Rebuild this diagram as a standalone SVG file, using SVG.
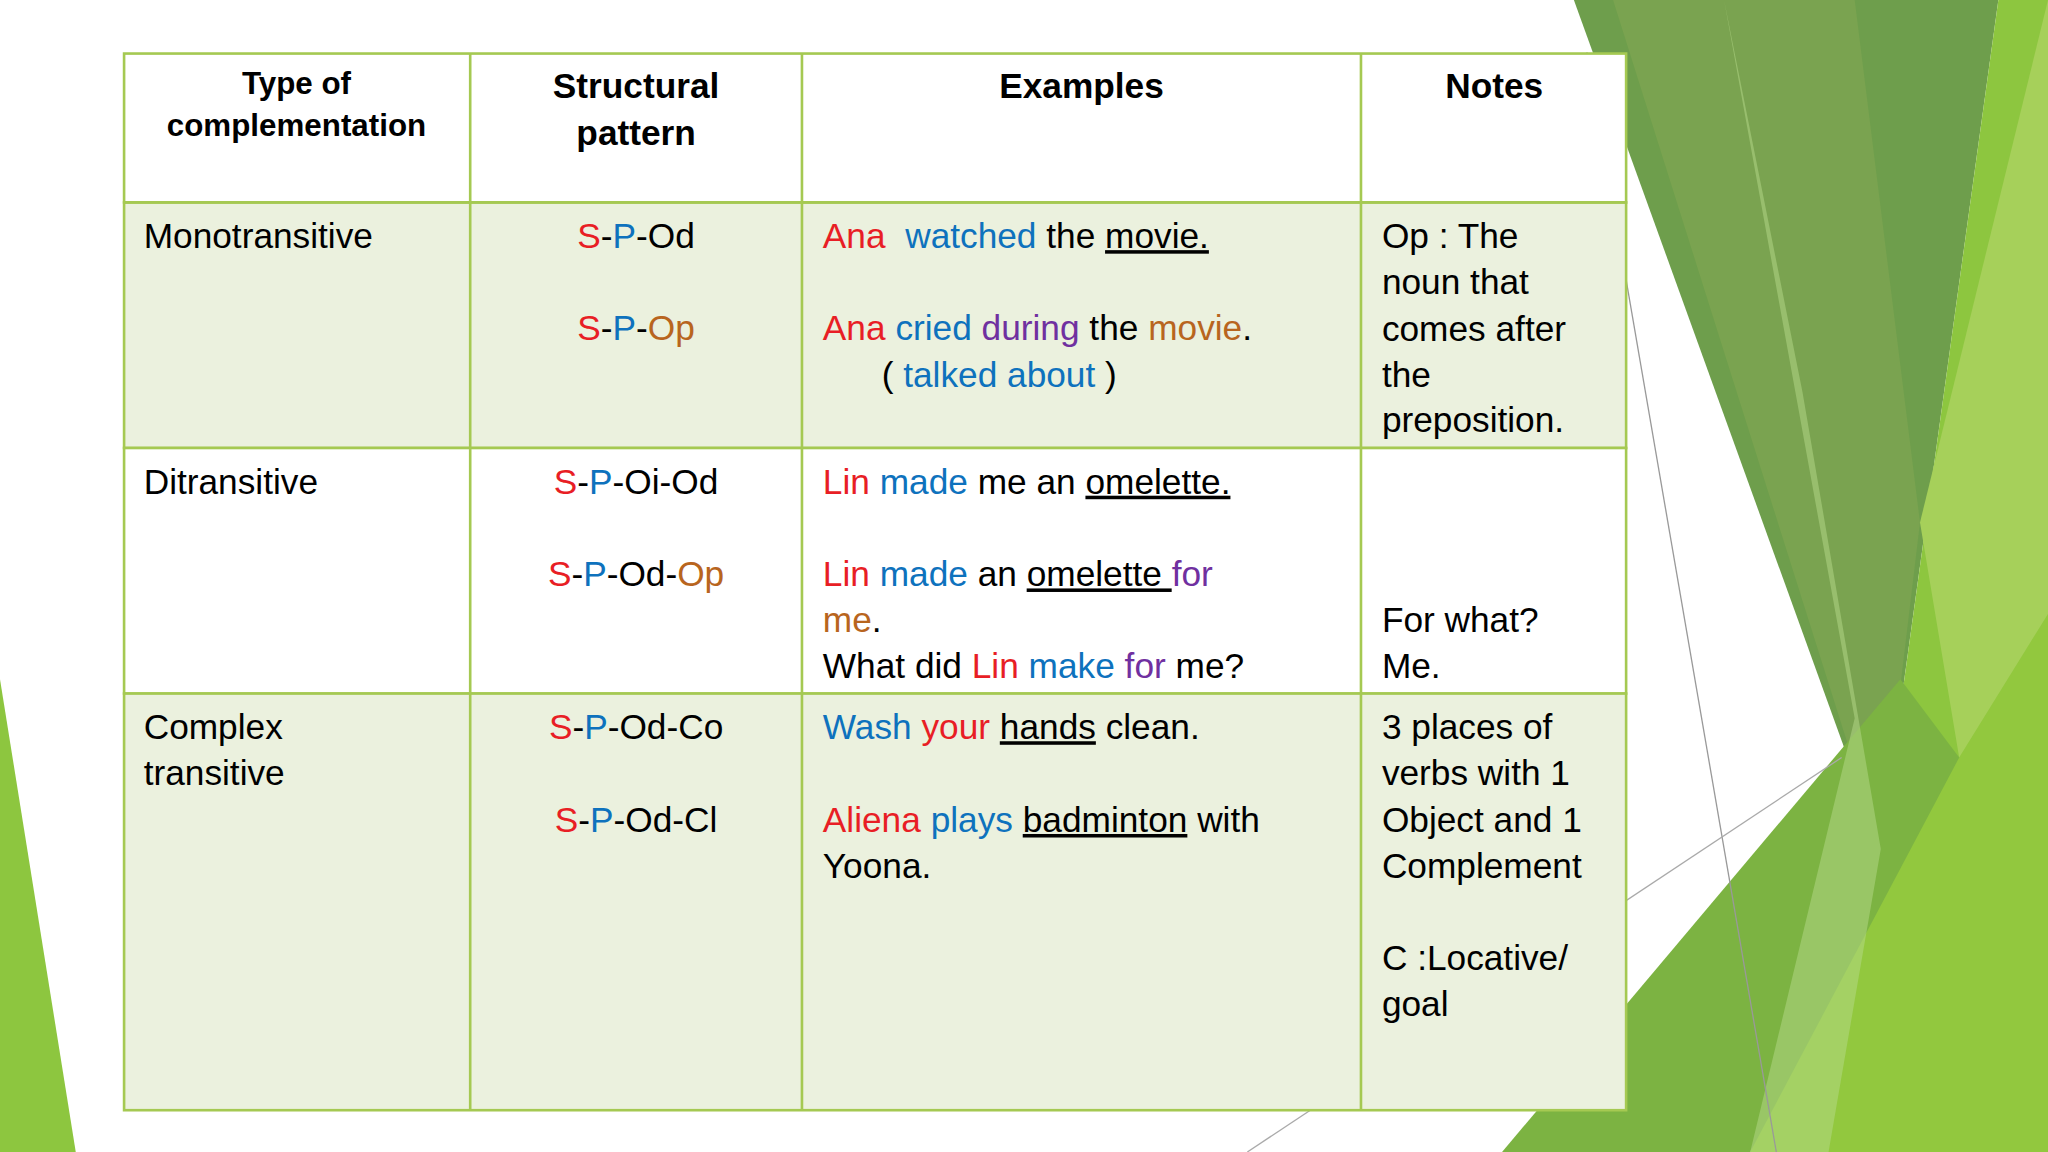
<svg xmlns="http://www.w3.org/2000/svg" width="2048" height="1152" viewBox="0 0 2048 1152">
<style>
text{font-family:"Liberation Sans",Arial,sans-serif;font-size:27px;fill:#000}
.h{font-weight:bold}
.r{fill:#E81E25}.b{fill:#0E72BD}.p{fill:#7030A0}.o{fill:#B8651E}
.u{text-decoration:underline}
.c{text-anchor:middle}
.cell{stroke:#A5C952;stroke-width:2}
</style>
<rect width="2048" height="1152" fill="#fff"/>
<g transform="scale(1.30612)">
<g id="background">
<polygon points="0,520 0,882 58,882" fill="#8DC63F"/>
<polygon points="1205,0 1530,0 1440,650" fill="#6E9E4C"/>
<polygon points="1235,0 1420,0 1470,400 1440,650" fill="#7AA350"/>
<polygon points="1530,0 1568,0 1568,882 1340,882 1440,650" fill="#8DC63F"/>
<polygon points="1440,650 1500,580 1568,470 1568,882 1340,882" fill="#92C83E"/>
<polygon points="1150,882 1455,520 1500,580 1340,882" fill="#7CB342"/>
<polygon points="1320,0 1380,300 1440,650 1400,882 1340,882 1420,550" fill="#B5D98A" opacity="0.5"/>
<polygon points="1470,400 1568,0 1568,470 1500,580" fill="#A6D05A"/>
<line x1="1215" y1="40" x2="1360" y2="882" stroke="#999" stroke-width="1"/>
<line x1="955" y1="882" x2="1410" y2="580" stroke="#aaa" stroke-width="1"/>
</g>
<g id="table">
<rect class="cell" x="95" y="41" width="1150" height="114" fill="#fff"/>
<rect class="cell" x="95" y="155" width="1150" height="188" fill="#EBF1DE"/>
<rect class="cell" x="95" y="343" width="1150" height="188" fill="#fff"/>
<rect class="cell" x="95" y="531" width="1150" height="319" fill="#EBF1DE"/>
<line class="cell" x1="95" y1="155" x2="1245" y2="155" stroke-width="3"/>
<line class="cell" x1="360" y1="41" x2="360" y2="850"/>
<line class="cell" x1="614" y1="41" x2="614" y2="850"/>
<line class="cell" x1="1042" y1="41" x2="1042" y2="850"/>
</g>
<g id="header">
<text class="h c" x="227" y="72" font-size="24" style="font-size:24px">Type of</text>
<text class="h c" x="227" y="104" style="font-size:24px">complementation</text>
<text class="h c" x="487" y="75">Structural</text>
<text class="h c" x="487" y="111">pattern</text>
<text class="h c" x="828" y="75">Examples</text>
<text class="h c" x="1144" y="75">Notes</text>
</g>
<g id="row1">
<text x="110" y="190">Monotransitive</text>
<text class="c" x="487" y="190"><tspan class="r">S</tspan>-<tspan class="b">P</tspan>-Od</text>
<text class="c" x="487" y="260"><tspan class="r">S</tspan>-<tspan class="b">P</tspan>-<tspan class="o">Op</tspan></text>
<text x="630" y="190" xml:space="preserve"><tspan class="r">Ana</tspan>  <tspan class="b">watched</tspan> the <tspan class="u">movie.</tspan></text>
<text x="630" y="260"><tspan class="r">Ana</tspan> <tspan class="b">cried</tspan> <tspan class="p">during</tspan> the <tspan class="o">movie</tspan>.</text>
<text x="675" y="296">( <tspan class="b">talked about</tspan> )</text>
<text x="1058" y="190">Op : The</text>
<text x="1058" y="225">noun that</text>
<text x="1058" y="261">comes after</text>
<text x="1058" y="296">the</text>
<text x="1058" y="331">preposition.</text>
</g>
<g id="row2">
<text x="110" y="378">Ditransitive</text>
<text class="c" x="487" y="378"><tspan class="r">S</tspan>-<tspan class="b">P</tspan>-Oi-Od</text>
<text class="c" x="487" y="449"><tspan class="r">S</tspan>-<tspan class="b">P</tspan>-Od-<tspan class="o">Op</tspan></text>
<text x="630" y="378"><tspan class="r">Lin</tspan> <tspan class="b">made</tspan> me an <tspan class="u">omelette.</tspan></text>
<text x="630" y="449" xml:space="preserve"><tspan class="r">Lin</tspan> <tspan class="b">made</tspan> an <tspan class="u">omelette </tspan><tspan class="p">for</tspan></text>
<text x="630" y="484"><tspan class="o">me</tspan>.</text>
<text x="630" y="519">What did <tspan class="r">Lin</tspan> <tspan class="b">make</tspan> <tspan class="p">for</tspan> me?</text>
<text x="1058" y="484">For what?</text>
<text x="1058" y="519">Me.</text>
</g>
<g id="row3">
<text x="110" y="566">Complex</text>
<text x="110" y="601">transitive</text>
<text class="c" x="487" y="566"><tspan class="r">S</tspan>-<tspan class="b">P</tspan>-Od-Co</text>
<text class="c" x="487" y="637"><tspan class="r">S</tspan>-<tspan class="b">P</tspan>-Od-Cl</text>
<text x="630" y="566"><tspan class="b">Wash</tspan> <tspan class="r">your</tspan> <tspan class="u">hands</tspan> clean.</text>
<text x="630" y="637"><tspan class="r">Aliena</tspan> <tspan class="b">plays</tspan> <tspan class="u">badminton</tspan> with</text>
<text x="630" y="672">Yoona.</text>
<text x="1058" y="566">3 places of</text>
<text x="1058" y="601">verbs with 1</text>
<text x="1058" y="637">Object and 1</text>
<text x="1058" y="672">Complement</text>
<text x="1058" y="743">C :Locative/</text>
<text x="1058" y="778">goal</text>
</g>
</g>
</svg>
